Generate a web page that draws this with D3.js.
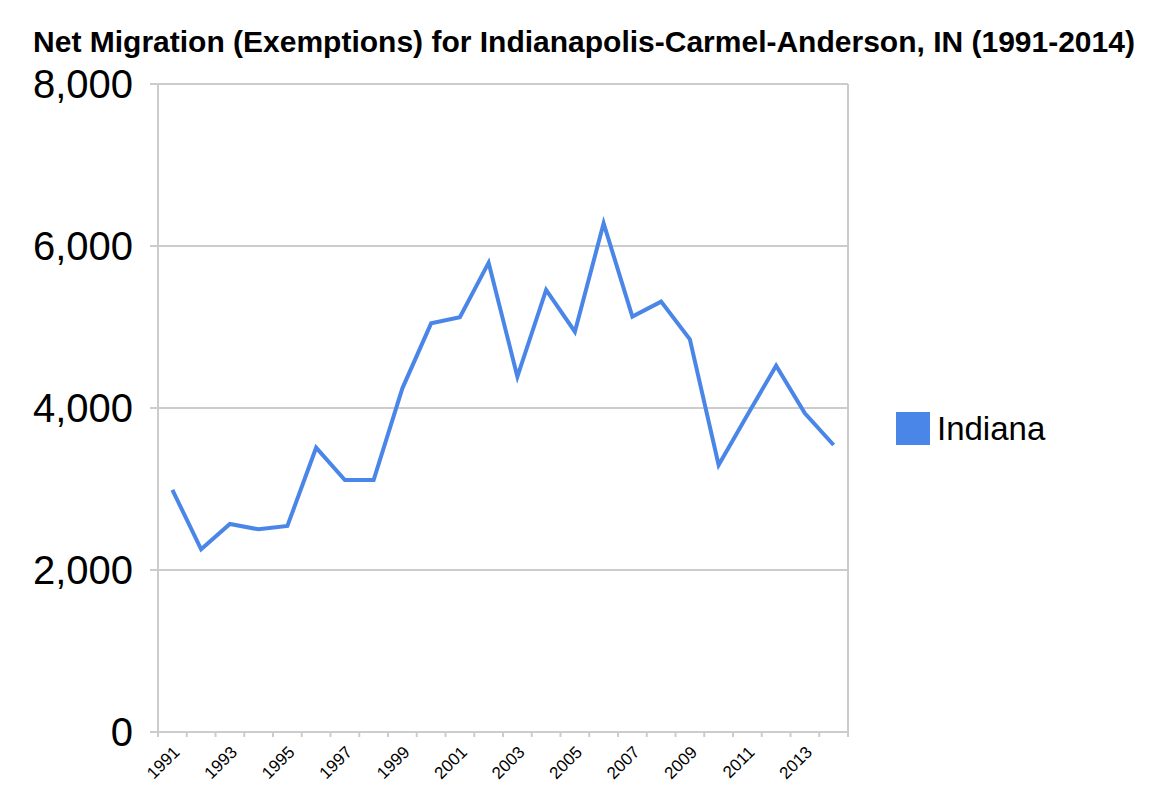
<!DOCTYPE html>
<html>
<head>
<meta charset="utf-8">
<script src="https://cdn.jsdelivr.net/npm/d3@7/dist/d3.min.js"></script>
<style>
  body { margin: 0; background: #fff; }
  text { font-family: "Liberation Sans", Arial, sans-serif; }
</style>
</head>
<body>
<script>
// chart data
var years = [1991, 1992, 1993, 1994, 1995, 1996, 1997, 1998, 1999, 2000, 2001, 2002,
             2003, 2004, 2005, 2006, 2007, 2008, 2009, 2010, 2011, 2012, 2013, 2014];
var indiana = [2990, 2255, 2568, 2502, 2543, 3510, 3111, 3111, 4243, 5045, 5120, 5794,
               4387, 5457, 4942, 6280, 5128, 5313, 4848, 3296, 3914, 4523, 3934, 3543];
var yTicks = [0, 2000, 4000, 6000, 8000];
var seriesName = "Indiana";
var title = "Net Migration (Exemptions) for Indianapolis-Carmel-Anderson, IN (1991-2014)";

var width = 1162, height = 808;
var margin = {top: 84, right: 314, bottom: 76, left: 158};
var plotW = width - margin.left - margin.right,
    plotH = height - margin.top - margin.bottom;

var blue = "#4a86e8", grid = "#cccccc";

var svg = d3.select("body").append("svg")
    .attr("width", width)
    .attr("height", height);

svg.append("text")
    .attr("x", 584)
    .attr("y", 52)
    .attr("text-anchor", "middle")
    .style("font-size", "30px")
    .style("font-weight", "bold")
    .text(title);

var g = svg.append("g")
    .attr("transform", "translate(" + margin.left + "," + margin.top + ")");

var x = d3.scaleBand()
    .domain(years)
    .range([0, plotW]);

var y = d3.scaleLinear()
    .domain([0, 8000])
    .range([plotH, 0]);

// horizontal gridlines with little stubs on the left
g.selectAll(".grid")
    .data(yTicks)
    .enter().append("line")
    .attr("class", "grid")
    .attr("x1", -8)
    .attr("x2", plotW)
    .attr("y1", function(d) { return y(d); })
    .attr("y2", function(d) { return y(d); })
    .style("stroke", grid)
    .style("stroke-width", 2);

// y labels
g.selectAll(".ylab")
    .data(yTicks)
    .enter().append("text")
    .attr("class", "ylab")
    .attr("x", -25)
    .attr("y", function(d) { return y(d); })
    .attr("dy", "0.36em")
    .attr("text-anchor", "end")
    .style("font-size", "40px")
    .text(function(d) { return d3.format(",")(d); });

// left and right frame lines
g.append("line")
    .attr("x1", 0).attr("x2", 0)
    .attr("y1", 0).attr("y2", plotH)
    .style("stroke", grid).style("stroke-width", 2);
g.append("line")
    .attr("x1", plotW).attr("x2", plotW)
    .attr("y1", 0).attr("y2", plotH + 5)
    .style("stroke", grid).style("stroke-width", 2);

// category boundary ticks
var bounds = years.map(function(d) { return x(d); });
g.selectAll(".xtick")
    .data(bounds)
    .enter().append("line")
    .attr("class", "xtick")
    .attr("x1", function(d) { return d; })
    .attr("x2", function(d) { return d; })
    .attr("y1", plotH)
    .attr("y2", plotH + 5)
    .style("stroke", grid)
    .style("stroke-width", 2);

// x labels, every other year, rotated
g.selectAll(".xlab")
    .data(years.filter(function(d, i) { return i % 2 == 0; }))
    .enter().append("text")
    .attr("class", "xlab")
    .attr("transform", function(d) {
        return "translate(" + (x(d) + x.bandwidth() / 2 + 4) + "," + (plotH + 17) + ") rotate(-45)";
    })
    .attr("text-anchor", "end")
    .attr("dy", "0.35em")
    .style("font-size", "17px")
    .text(function(d) { return d; });

// the line
var line = d3.line()
    .x(function(d, i) { return x(years[i]) + x.bandwidth() / 2; })
    .y(function(d) { return y(d); });

g.append("path")
    .datum(indiana)
    .attr("d", line)
    .style("fill", "none")
    .style("stroke", blue)
    .style("stroke-width", 4)
    .style("stroke-linejoin", "miter");

// legend
var legend = svg.append("g")
    .attr("transform", "translate(896,412)");
legend.append("rect")
    .attr("width", 34)
    .attr("height", 33)
    .style("fill", blue);
legend.append("text")
    .attr("x", 41)
    .attr("y", 16.5)
    .attr("dy", "0.36em")
    .style("font-size", "33px")
    .text(seriesName);
</script>
</body>
</html>
